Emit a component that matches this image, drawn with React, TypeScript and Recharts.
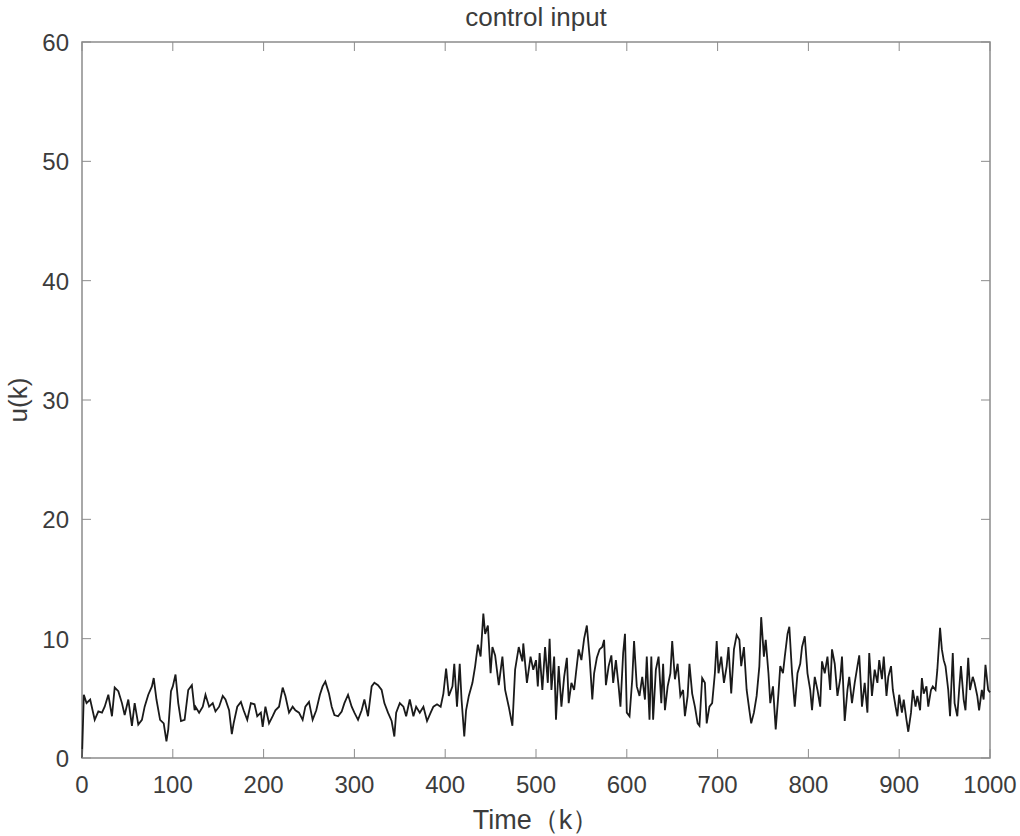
import React from "react";
import { LineChart, Line, XAxis, YAxis, ReferenceArea } from "recharts";

// sample index k and control input u(k)
const timeK = [
  0, 2, 5, 9, 14, 18, 22, 25, 29, 33, 36, 40, 44, 47, 51, 55, 58, 62, 66, 69, 73, 77, 79, 82, 86, 90, 93, 95, 98, 100, 103, 106, 109, 113, 117, 121, 124,
  125, 129, 133, 136, 140, 144, 147, 151, 155, 158, 162, 165, 167, 171, 175, 178, 182, 186, 190, 193, 197, 199, 202, 206, 210, 213, 217, 221, 224, 228, 232, 235, 239, 243, 246, 250,
  254, 258, 262, 265, 268, 272, 275, 278, 282, 286, 289, 293, 297, 300, 304, 308, 311, 315, 319, 322, 326, 330, 333, 337, 341, 344, 346, 350, 354, 357, 361, 365, 368, 372, 376,
  380, 384, 387, 391, 395, 398, 401, 404, 408, 410, 413, 416, 418, 421, 423, 426, 430, 433, 436, 439, 442, 444, 447, 450, 452, 455, 459, 463, 466, 470, 474, 477, 481, 485, 486, 490, 494, 497, 500,
  502, 504, 507, 510, 513, 515, 517, 520, 522, 525, 528, 531, 534, 536, 539, 542, 544, 547, 550, 553, 556, 559, 562, 564, 567, 570, 573, 575, 577, 580, 583, 585, 588, 591, 593, 596, 598, 600, 603, 606, 608, 611, 614, 617, 620, 622, 625,
  627, 629, 632, 635, 638, 640, 642, 645, 648, 650, 653, 656, 659, 662, 664, 667, 669, 672, 675, 678, 680, 683, 686, 688, 691, 694, 697, 699, 701, 704, 707, 710, 712, 715, 718, 721, 724, 726, 729, 732, 735, 737, 740, 743, 746, 748, 751,
  753, 756, 758, 761, 764, 767, 769, 772, 774, 777, 779, 782, 785, 788, 791, 793, 796, 799, 802, 804, 807, 810, 813, 815, 818, 821, 824, 826, 829, 832, 835, 837, 840, 843, 845, 848, 851, 854, 856, 859, 862, 865, 867, 870, 873, 876,
  878, 881, 883, 886, 888, 891, 893, 896, 898, 900, 903, 905, 908, 910, 913, 915, 918, 920, 923, 925, 927, 930, 932, 935, 937, 940, 942, 945, 947, 949, 951, 954, 956, 959, 961, 964, 966, 968, 971, 973, 976, 978, 981, 983, 986, 988, 991, 993, 995, 998, 1000,
];

const uK = [
  0, 5.3, 4.6, 4.9, 3.2, 3.9, 3.8, 4.3, 5.3, 3.5, 5.9, 5.6, 4.6, 3.6, 4.9, 2.7, 4.6, 2.8, 3.2, 4.3, 5.3, 6.0, 6.7, 4.9, 3.2, 2.9, 1.4, 2.4, 5.6, 6.0, 7.0, 4.6, 3.1, 3.2, 5.7, 6.1, 4.0,
  4.3, 3.8, 4.3, 5.3, 4.3, 4.6, 3.9, 4.3, 5.2, 4.9, 4.0, 2.0, 2.9, 4.3, 4.7, 4.0, 3.2, 4.6, 4.5, 3.5, 3.8, 2.6, 4.3, 2.9, 3.5, 4.0, 4.3, 5.9, 5.2, 3.8, 4.3, 4.0, 3.8, 3.2, 4.3, 4.7,
  3.2, 4.0, 5.3, 6.0, 6.4, 5.4, 4.3, 3.6, 3.5, 3.9, 4.6, 5.3, 4.3, 3.8, 3.2, 4.0, 4.9, 3.5, 6.0, 6.3, 6.1, 5.7, 4.6, 3.8, 3.1, 1.8, 3.8, 4.6, 4.3, 3.5, 4.9, 3.5, 4.3, 3.8, 4.3,
  3.1, 3.8, 4.3, 4.5, 4.3, 5.4, 7.5, 5.2, 6.0, 7.9, 4.3, 7.9, 4.9, 1.8, 4.0, 5.2, 6.3, 7.7, 9.5, 8.5, 12.1, 10.4, 11.1, 7.1, 9.3, 8.6, 6.1, 8.5, 5.7, 4.3, 2.7, 7.4, 9.3, 8.1, 9.6, 6.3, 8.5, 7.4, 8.2,
  6.0, 8.8, 5.7, 9.3, 6.3, 10.0, 5.7, 8.5, 3.2, 7.7, 4.3, 6.8, 8.4, 4.6, 6.3, 5.7, 7.1, 9.1, 8.2, 10.0, 11.1, 8.5, 4.9, 7.1, 8.4, 9.1, 9.3, 9.9, 6.1, 7.7, 8.6, 6.3, 8.2, 6.0, 4.3, 8.8, 10.4, 3.8, 3.5, 6.6, 9.8, 6.0, 5.2, 6.8, 4.9, 8.5, 3.2,
  8.5, 3.2, 7.4, 8.5, 4.6, 7.9, 4.0, 6.0, 7.1, 9.8, 6.6, 7.9, 5.2, 5.7, 3.5, 5.2, 7.9, 5.4, 4.3, 2.9, 2.7, 6.7, 6.3, 2.9, 4.3, 4.6, 7.1, 9.8, 7.1, 8.5, 6.3, 7.7, 9.3, 5.4, 9.1, 10.3, 9.9, 7.7, 9.3, 5.7, 4.0, 2.9, 3.8, 5.2, 7.7, 11.8, 8.5,
  9.9, 7.1, 4.6, 6.0, 2.4, 5.4, 7.7, 7.1, 8.5, 10.4, 11.0, 7.1, 4.3, 7.1, 7.9, 9.3, 10.2, 7.1, 5.7, 4.0, 6.8, 5.7, 4.3, 8.1, 7.1, 8.5, 5.7, 9.1, 7.9, 5.2, 6.6, 8.5, 3.1, 5.7, 6.8, 4.6, 6.3, 7.7, 8.6, 4.3, 6.3, 3.8, 8.8, 5.2, 7.4, 6.3,
  8.2, 6.6, 8.5, 5.2, 6.8, 7.7, 5.7, 4.3, 3.5, 5.3, 3.8, 4.9, 3.2, 2.2, 3.8, 5.7, 4.3, 5.2, 4.0, 6.7, 5.4, 6.0, 4.3, 5.7, 6.0, 5.7, 7.4, 10.9, 9.1, 8.2, 7.7, 5.7, 3.5, 8.8, 4.6, 3.5, 5.7, 7.7, 4.9, 4.0, 8.4, 5.7, 6.8, 6.3, 5.2, 4.0, 5.7, 4.9, 7.8, 5.7, 5.5,
];

const xTicks = [0, 100, 200, 300, 400, 500, 600, 700, 800, 900, 1000];
const yTicks = [0, 10, 20, 30, 40, 50, 60];

const W = 1020;
const H = 836;
// plot box: x 82..990, y 42..758
const LEFT = 82;
const BOTTOM = 78;
const M = { top: 42, right: 30, bottom: 0, left: 0 };
const PLOT_W = W - LEFT - M.right;
const PLOT_H = H - M.top - BOTTOM;
const TICK = 9;
const FRAME = "#8c8c8c";
const TEXT = "#3c3c3c";
const FONT = "'Liberation Sans', Arial, sans-serif";

const data = timeK.map((k, i) => ({ k, u: uK[i] }));

function XTick({ x, y, payload }: any) {
  return (
    <g>
      <line x1={x} y1={y} x2={x} y2={y - TICK} stroke={FRAME} />
      <line x1={x} y1={y - PLOT_H} x2={x} y2={y - PLOT_H + TICK} stroke={FRAME} />
      <text x={x} y={y + 35} textAnchor="middle" fill={TEXT} fontSize={24} fontFamily={FONT}>
        {payload.value}
      </text>
    </g>
  );
}

function YTick({ x, y, payload }: any) {
  return (
    <g>
      <line x1={x} y1={y} x2={x + TICK} y2={y} stroke={FRAME} />
      <line x1={x + PLOT_W} y1={y} x2={x + PLOT_W - TICK} y2={y} stroke={FRAME} />
      <text x={x - 13} y={y + 9} textAnchor="end" fill={TEXT} fontSize={24} fontFamily={FONT}>
        {payload.value}
      </text>
    </g>
  );
}

export default function App() {
  return (
    <div style={{ position: "absolute", left: 0, top: 0, width: W, height: H, background: "#fff", fontFamily: FONT }}>
      <LineChart width={W} height={H} data={data} margin={M}>
        <XAxis
          type="number"
          dataKey="k"
          domain={[0, 1000]}
          ticks={xTicks}
          height={BOTTOM}
          tickSize={0}
          tickMargin={0}
          tickLine={false}
          axisLine={false}
          tick={<XTick />}
          interval={0}
        />
        <YAxis
          type="number"
          domain={[0, 60]}
          ticks={yTicks}
          width={LEFT}
          tickSize={0}
          tickMargin={0}
          tickLine={false}
          axisLine={false}
          tick={<YTick />}
          interval={0}
        />
        <ReferenceArea x1={0} x2={1000} y1={0} y2={60} fill="none" stroke={FRAME} strokeWidth={1.5} ifOverflow="visible" />
        <Line
          type="linear"
          dataKey="u"
          stroke="#1a1a1a"
          strokeWidth={1.8}
          dot={false}
          isAnimationActive={false}
        />
      </LineChart>
      <div style={{ position: "absolute", top: 2, left: LEFT, width: PLOT_W, textAlign: "center", fontSize: 26, color: TEXT }}>
        control input
      </div>
      <div style={{ position: "absolute", top: 802, left: LEFT, width: PLOT_W, textAlign: "center", fontSize: 27, color: TEXT }}>
        Time（k）
      </div>
      <div
        style={{
          position: "absolute",
          left: 18,
          top: M.top + PLOT_H / 2,
          fontSize: 26,
          color: TEXT,
          transform: "translate(-50%, -50%) rotate(-90deg)",
          whiteSpace: "nowrap",
        }}
      >
        u(k)
      </div>
    </div>
  );
}
